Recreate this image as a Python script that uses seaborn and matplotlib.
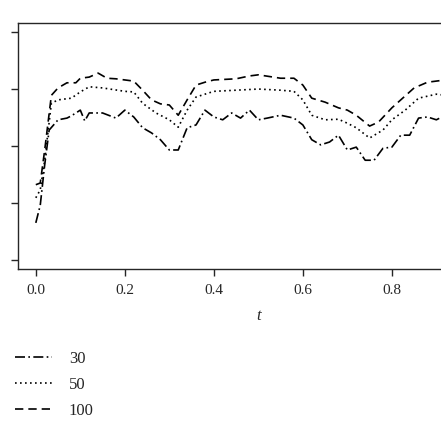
import matplotlib
matplotlib.use("Agg")
import matplotlib.pyplot as plt
import seaborn as sns
import pandas as pd

# series (y on a 0-4 scale, tick labels cropped)
T30 = [0.0, 0.01, 0.02, 0.03, 0.04, 0.05, 0.07, 0.08, 0.10, 0.11, 0.12, 0.15, 0.18, 0.20,
       0.22, 0.24, 0.26, 0.28, 0.30, 0.32, 0.34, 0.36, 0.38, 0.40, 0.42, 0.44, 0.46, 0.48,
       0.50, 0.52, 0.55, 0.58, 0.60, 0.62, 0.64, 0.66, 0.68, 0.70, 0.72, 0.74, 0.76, 0.78,
       0.80, 0.82, 0.84, 0.86, 0.88, 0.90, 0.92]
V30 = [0.65, 0.96, 1.67, 2.28, 2.37, 2.46, 2.49, 2.53, 2.63, 2.44, 2.58, 2.58, 2.49, 2.63,
       2.51, 2.32, 2.23, 2.11, 1.93, 1.93, 2.32, 2.37, 2.63, 2.51, 2.46, 2.58, 2.49, 2.63,
       2.46, 2.49, 2.54, 2.49, 2.37, 2.11, 2.02, 2.07, 2.19, 1.93, 1.98, 1.75, 1.75, 1.96,
       1.98, 2.19, 2.19, 2.49, 2.51, 2.46, 2.54]
T50 = [0.0, 0.01, 0.02, 0.035, 0.05, 0.08, 0.10, 0.12, 0.15, 0.20, 0.22, 0.24, 0.27, 0.30,
       0.32, 0.34, 0.36, 0.40, 0.45, 0.50, 0.55, 0.58, 0.60, 0.62, 0.65, 0.68, 0.70, 0.72,
       0.75, 0.78, 0.80, 0.83, 0.86, 0.90, 0.92]
V50 = [1.09, 1.23, 1.75, 2.75, 2.81, 2.84, 2.95, 3.04, 3.02, 2.96, 2.95, 2.75, 2.58, 2.46,
       2.33, 2.63, 2.86, 2.96, 2.98, 3.00, 2.98, 2.96, 2.81, 2.54, 2.46, 2.47, 2.40, 2.32,
       2.14, 2.28, 2.46, 2.63, 2.84, 2.91, 2.89]
T100 = [0.0, 0.01, 0.02, 0.035, 0.05, 0.07, 0.09, 0.10, 0.12, 0.14, 0.16, 0.18, 0.20, 0.22,
        0.24, 0.26, 0.28, 0.30, 0.32, 0.34, 0.36, 0.38, 0.40, 0.45, 0.48, 0.50, 0.55, 0.58,
        0.60, 0.62, 0.65, 0.68, 0.70, 0.72, 0.75, 0.77, 0.80, 0.82, 0.85, 0.88, 0.92]
V100 = [1.32, 1.35, 1.93, 2.89, 3.02, 3.11, 3.11, 3.19, 3.21, 3.28, 3.19, 3.18, 3.16, 3.14,
        2.98, 2.81, 2.74, 2.72, 2.54, 2.81, 3.07, 3.12, 3.16, 3.18, 3.23, 3.25, 3.19, 3.19,
        3.07, 2.84, 2.77, 2.67, 2.63, 2.54, 2.35, 2.42, 2.67, 2.81, 3.02, 3.12, 3.16]
LABELS = ["30", "50", "100"]
STYLES = [(0, (6, 2, 1, 2)), (0, (1, 2)), (0, (5, 3))]

frames = []
for lab, t, v in zip(LABELS, [T30, T50, T100], [V30, V50, V100]):
    frames.append(pd.DataFrame({"t": t, "v": v, "n": lab}))
df = pd.concat(frames)

sns.set_style("ticks")
plt.rcParams["font.family"] = ["Liberation Serif", "DejaVu Serif"]
plt.rcParams["font.size"] = 11

fig = plt.figure(figsize=(4.41, 4.41), dpi=100)
ax = fig.add_axes([18 / 441, 1 - 269 / 441, 1.09, 246 / 441])
for lab, ls in zip(LABELS, STYLES):
    sub = df[df["n"] == lab]
    sns.lineplot(data=sub, x="t", y="v", ax=ax, color="black", lw=1.2, linestyle=ls,
                 label=lab, legend=False)
ax.set_xlim(-0.04, 1.04)
ax.set_ylim(-0.16, 4.16)
ax.set_xticks([0.0, 0.2, 0.4, 0.6, 0.8, 1.0])
ax.set_xticklabels(["0.0", "0.2", "0.4", "0.6", "0.8", ""])
ax.set_yticks([0, 1, 2, 3, 4])
ax.set_yticklabels(["", "", "", "", ""])
ax.tick_params(length=5, width=1, labelsize=11, pad=6)
ax.set_xlabel("t", style="italic", fontsize=12, labelpad=8)
ax.set_ylabel("")
for s in ax.spines.values():
    s.set_linewidth(1.0)
    s.set_visible(True)

handles = ax.get_lines()
fig.legend(handles, LABELS, loc="upper left", bbox_to_anchor=(0.035, 0.205),
           frameon=False, handlelength=2.2, handletextpad=1.0, labelspacing=0.6,
           fontsize=12, borderaxespad=0, borderpad=0)
fig.savefig("out.png", dpi=100)
